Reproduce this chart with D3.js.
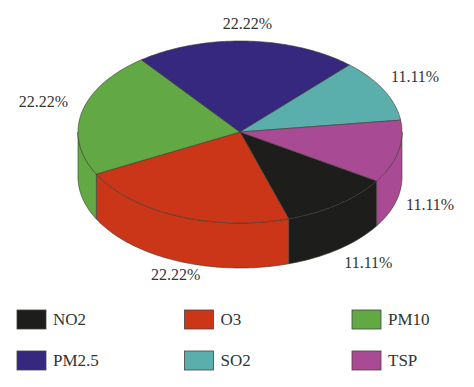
<!DOCTYPE html>
<html>
<head>
<meta charset="utf-8">
<script src="https://cdn.jsdelivr.net/npm/d3@7/dist/d3.min.js"></script>
<style>
  body { margin: 0; background: #fff; }
  svg { display: block; }
  text { font-family: "Liberation Serif", "Times New Roman", Times, serif; }
</style>
</head>
<body>
<script>
const categories = ["NO2", "O3", "PM10", "PM2.5", "SO2", "TSP"];
const shares = [11.11, 22.22, 22.22, 22.22, 11.11, 11.11];
const colors = ["#1d1d1b", "#cb3618", "#62a844", "#36287f", "#5aafad", "#a94a95"];

const W = 474, H = 387;
const cx = 240, cy = 132, rx = 162, ry = 91, depth = 45;
const start = 122.5 * Math.PI / 180;

const svg = d3.select("body").append("svg").attr("width", W).attr("height", H);

const pie = d3.pie().sort(null).value(d => d).startAngle(start).endAngle(start + 2 * Math.PI);
const arcs = pie(shares);

// d3 angle (0 = 12 o'clock, clockwise) -> point on the ellipse
const pt = (a, dy = 0) => [cx + rx * Math.sin(a), cy - ry * Math.cos(a) + dy];

function arcPoints(a0, a1, dy) {
  const n = Math.max(2, Math.ceil(Math.abs(a1 - a0) / 0.02));
  return d3.range(n + 1).map(i => pt(a0 + (a1 - a0) * i / n, dy));
}

// front wall is visible between d3 angles PI/2 and 3PI/2 (mod 2PI)
const sides = svg.append("g");
arcs.forEach((d, i) => {
  for (let k = -1; k <= 1; k++) {
    const lo = Math.max(d.startAngle, Math.PI / 2 + k * 2 * Math.PI);
    const hi = Math.min(d.endAngle, 1.5 * Math.PI + k * 2 * Math.PI);
    if (hi <= lo) continue;
    const top = arcPoints(lo, hi, 0);
    const bot = arcPoints(hi, lo, depth);
    sides.append("path")
      .attr("d", d3.line()(top.concat(bot)) + "Z")
      .attr("fill", colors[i])
      .attr("stroke", "#3a3a30")
      .attr("stroke-width", 0.6)
      .attr("stroke-linejoin", "round");
  }
});

const tops = svg.append("g");
arcs.forEach((d, i) => {
  const p = [[cx, cy]].concat(arcPoints(d.startAngle, d.endAngle, 0));
  tops.append("path")
    .attr("d", d3.line()(p) + "Z")
    .attr("fill", colors[i])
    .attr("stroke", "#3a3a30")
    .attr("stroke-width", 0.6)
    .attr("stroke-linejoin", "round");
});

// percentage labels
const labels = svg.append("g")
  .attr("font-size", 16)
  .attr("fill", "#333");
arcs.forEach((d, i) => {
  const a = (d.startAngle + d.endAngle) / 2;
  const s = Math.sin(a), c = -Math.cos(a); // c > 0 means lower half on screen
  const x = cx + (rx + 6) * s;
  const y = cy + (ry + 8) * c + (c > 0 ? depth : 0);
  labels.append("text")
    .attr("x", x + (Math.abs(s) < 0.4 ? 0 : (s > 0 ? 2 : -8)))
    .attr("y", c > 0 ? y + 12 : y - 4)
    .attr("text-anchor", Math.abs(s) < 0.4 ? "middle" : (s > 0 ? "start" : "end"))
    .text(d.data.toFixed(2) + "%");
});

// legend
const colX = d3.scalePoint().domain([0, 1, 2]).range([17, 352]);
const rowY = d3.scalePoint().domain([0, 1]).range([310, 351]);
const legend = svg.append("g")
  .attr("font-size", 17)
  .attr("fill", "#333");
categories.forEach((name, i) => {
  const g = legend.append("g")
    .attr("transform", `translate(${colX(i % 3)},${rowY(Math.floor(i / 3))})`);
  g.append("rect")
    .attr("width", 29).attr("height", 19)
    .attr("fill", colors[i])
    .attr("stroke", "#444").attr("stroke-width", 0.8);
  g.append("text").attr("x", 36).attr("y", 15).text(name);
});
</script>
</body>
</html>
